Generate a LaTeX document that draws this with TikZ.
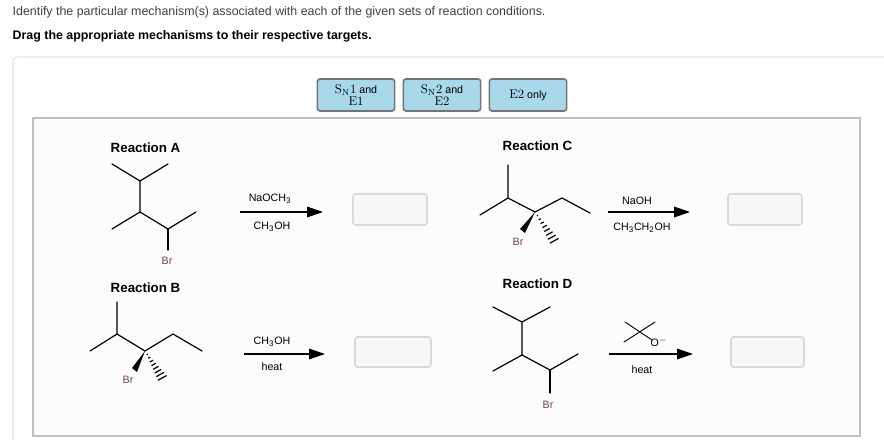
\documentclass[tikz,border=0pt]{standalone}
\usepackage{fontspec}
\setmainfont{Liberation Sans}
\usetikzlibrary{positioning, arrows.meta, calc}
\definecolor{btnblue}{RGB}{168,216,234}
\definecolor{brcol}{RGB}{110,70,70}
\tikzset{
bond/.style={line width=0.9pt, line cap=round}, % skeletal bonds
rxn/.style={-{Triangle[length=12pt,width=8pt]}, line width=0.9pt},
title/.style={font=\fontsize{10}{12}\selectfont\bfseries, anchor=west},
texto/.style={font=\fontsize{8}{9}\selectfont},
target/.style={draw=black!15, fill=black!3, rounded corners=2pt, line width=1.2pt},
btn/.style={draw=black!55, fill=btnblue, rounded corners=2pt, line width=1.2pt,
  minimum width=58pt, minimum height=24pt, align=center, inner sep=0pt,
  font=\fontsize{8}{7.5}\selectfont},
}
\newcommand{\lmr}[1]{{\fontfamily{lmr}\selectfont\fontsize{9.5}{8}\selectfont #1}}
\newcommand{\snm}[1]{\lmr{S\textsubscript{N}#1}}
\begin{document}
\begin{tikzpicture}[x=0.75pt, y=-0.75pt]
\useasboundingbox (0,0) rectangle (884,439);
% header
\node[anchor=west, text=black!75, font=\fontsize{9.3}{11}\selectfont] (q1) at (8,12) {Identify the particular mechanism(s) associated with each of the given sets of reaction conditions.};
\node[anchor=west, font=\fontsize{9.3}{11}\selectfont\bfseries] (q2) at (8,36) {Drag the appropriate mechanisms to their respective targets.};
% panels
\draw[black!20, rounded corners=3pt] (13,57) rectangle (890,445);
\draw[black!25, line width=2pt, fill=black!1] (33,118) rectangle (860,436);
% buttons
\node[btn] (b1) at (356,95) {\snm{1} and\\ \lmr{E1}};
\node[btn] (b2) at (442,95) {\snm{2} and\\ \lmr{E2}};
\node[btn] (b3) at (528,95) {\lmr{E2} only};

% Reaction A
\node[title] (ta) at (106,148) {Reaction A};
\draw[bond] (112,164) -- (140,181) -- (168,164);
\draw[bond] (140,181) -- (140,212) -- (112,229);
\draw[bond] (140,212) -- (168,229) -- (196,212);
\draw[bond] (168,229) -- (168,250);
\node[texto, text=brcol] (bra) at (167,261) {Br};
\coordinate (a1) at (240,212); \coordinate (a2) at (323,212);
\draw[rxn] (a1) -- (a2);
\node[texto] (ra1) at (270,199) {NaOCH\textsubscript{3}};
\node[texto] (ra2) at (272,227) {CH\textsubscript{3}OH};
\draw[target] (353,194) rectangle (427,225);

% Reaction B
\node[title] (tb) at (106,288) {Reaction B};
\draw[bond] (117,302) -- (117,334) -- (90,351);
\draw[bond] (117,334) -- (145,351) -- (173,334) -- (202,351);
\fill (145,351) -- (132,368) -- (137,372) -- cycle;
\foreach \t in {0.12,0.24,...,1}
  \draw[line width=0.9pt] ($(145,351)!\t!(163,379)+(-\t*4.5,\t*2.5)$) -- ($(145,351)!\t!(163,379)+(\t*4.5,-\t*2.5)$);
\node[texto, text=brcol] (brb) at (128,380) {Br};
\coordinate (b1s) at (244,354); \coordinate (b1e) at (325,354);
\draw[rxn] (b1s) -- (b1e);
\node[texto] (rb1) at (272,342) {CH\textsubscript{3}OH};
\node[texto] (rb2) at (272,367) {heat};
\draw[target] (355,337) rectangle (431,367);

% Reaction C
\node[title] (tc) at (498,146) {Reaction C};
\draw[bond] (508,165) -- (508,198) -- (480,215);
\draw[bond] (508,198) -- (535,212) -- (562,198) -- (590,213);
\fill (535,212) -- (520,229) -- (525,233) -- cycle;
\foreach \t in {0.12,0.24,...,1}
  \draw[line width=0.9pt] ($(535,212)!\t!(555,242)+(-\t*4.5,\t*2.5)$) -- ($(535,212)!\t!(555,242)+(\t*4.5,-\t*2.5)$);
\node[texto, text=brcol] (brc) at (518,242) {Br};
\coordinate (c1) at (608,212); \coordinate (c2) at (690,212);
\draw[rxn] (c1) -- (c2);
\node[texto] (rc1) at (637,201) {NaOH};
\node[texto] (rc2) at (642,228) {CH\textsubscript{3}CH\textsubscript{2}OH};
\draw[target] (728,194) rectangle (802,225);

% Reaction D
\node[title] (td) at (498,284) {Reaction D};
\draw[bond] (493,307) -- (522,322) -- (550,307);
\draw[bond] (522,322) -- (522,355) -- (493,371);
\draw[bond] (522,355) -- (550,370) -- (578,354);
\draw[bond] (550,370) -- (550,393);
\node[texto, text=brcol] (brd) at (548,405) {Br};
\draw[bond, line width=0.7pt] (625,322) -- (652,340);
\draw[bond, line width=0.7pt] (624,342) -- (655,322);
\node[texto, inner sep=0pt] (ox) at (659,342) {O\textsuperscript{$-$}};
\coordinate (d1) at (609,354); \coordinate (d2) at (693,354);
\draw[rxn] (d1) -- (d2);
\node[texto] (rd2) at (642,370) {heat};
\draw[target] (731,337) rectangle (804,367);
\end{tikzpicture}
\end{document}
